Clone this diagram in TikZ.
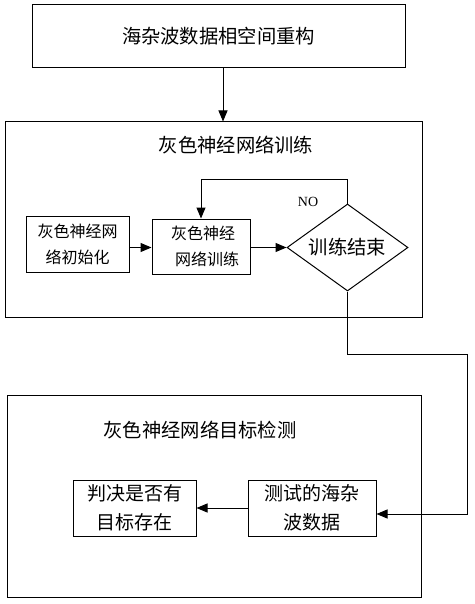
\documentclass[tikz,border=0pt]{standalone}
\usepackage{fontspec}
\setmainfont{Noto Sans CJK SC}
\newfontfamily\latinfont{Liberation Serif}
\usetikzlibrary{arrows.meta,shapes.geometric}
\begin{document}
\begin{tikzpicture}[x=1pt,y=-1pt, line width=1pt,
  box/.style={draw, rectangle, inner sep=0pt, align=center},
  group/.style={draw, rectangle, inner sep=0pt},
  arr/.style={-{Triangle[length=11pt,width=9pt]}},
  bigtxt/.style={font=\fontsize{19.3pt}{22pt}\selectfont},
  midtxt/.style={font=\fontsize{19pt}{29pt}\selectfont},
  smalltxt/.style={font=\fontsize{16pt}{26pt}\selectfont}]
\useasboundingbox (0,0) rectangle (474,604);
% top box
\node[box, bigtxt, minimum width=373pt, minimum height=63pt] (recon) at (218.5,36.5) {海杂波数据相空间重构};
% group 1
\node[group, minimum width=417pt, minimum height=195pt] (grp1) at (213.5,219.5) {};
\node[bigtxt, inner sep=0pt] (title1) at (236,145) {灰色神经网络训练};
\node[box, smalltxt, minimum width=103pt, minimum height=56pt] (init) at (77.5,244) {灰色神经网\\络初始化};
\node[box, smalltxt, minimum width=98pt, minimum height=55pt] (train) at (201,246.5) {\hspace*{4pt}灰色神经\\\hspace*{12pt}网络训练};
\node[draw, diamond, inner sep=0pt, aspect=1.39, minimum width=121pt, minimum height=87pt, bigtxt] (dia) at (347.5,247.5) {训练结束};
\node[font=\latinfont\fontsize{14pt}{16pt}\selectfont, inner sep=0pt] (nolabel) at (308,202) {NO};
% group 2
\node[group, minimum width=414pt, minimum height=202pt] (grp2) at (214,496) {};
\node[bigtxt, inner sep=0pt] (title2) at (200,430) {灰色神经网络目标检测};
\node[box, midtxt, minimum width=123pt, minimum height=56pt] (judge) at (134.5,508) {判决是否有\\目标存在};
\node[box, midtxt, minimum width=128pt, minimum height=56pt] (test) at (312,508) {测试的海杂\\波数据};
\coordinate (c1) at (467,354);
% connectors
\draw[arr] ([xshift=4.5pt]recon.south) -- ([xshift=4.5pt]recon.south |- grp1.north);
\draw[arr] (init.east |- dia) -- (train.west |- dia);
\draw[arr] (train.east |- dia) -- (dia.west);
\draw[arr] (dia.north) -- ++(0,-24) -| (train.north);
\draw[arr] (dia.south) |- (c1) |- ([yshift=-6pt]test.east);
\draw[arr] (test.west) -- (judge.east);
\end{tikzpicture}
\end{document}
